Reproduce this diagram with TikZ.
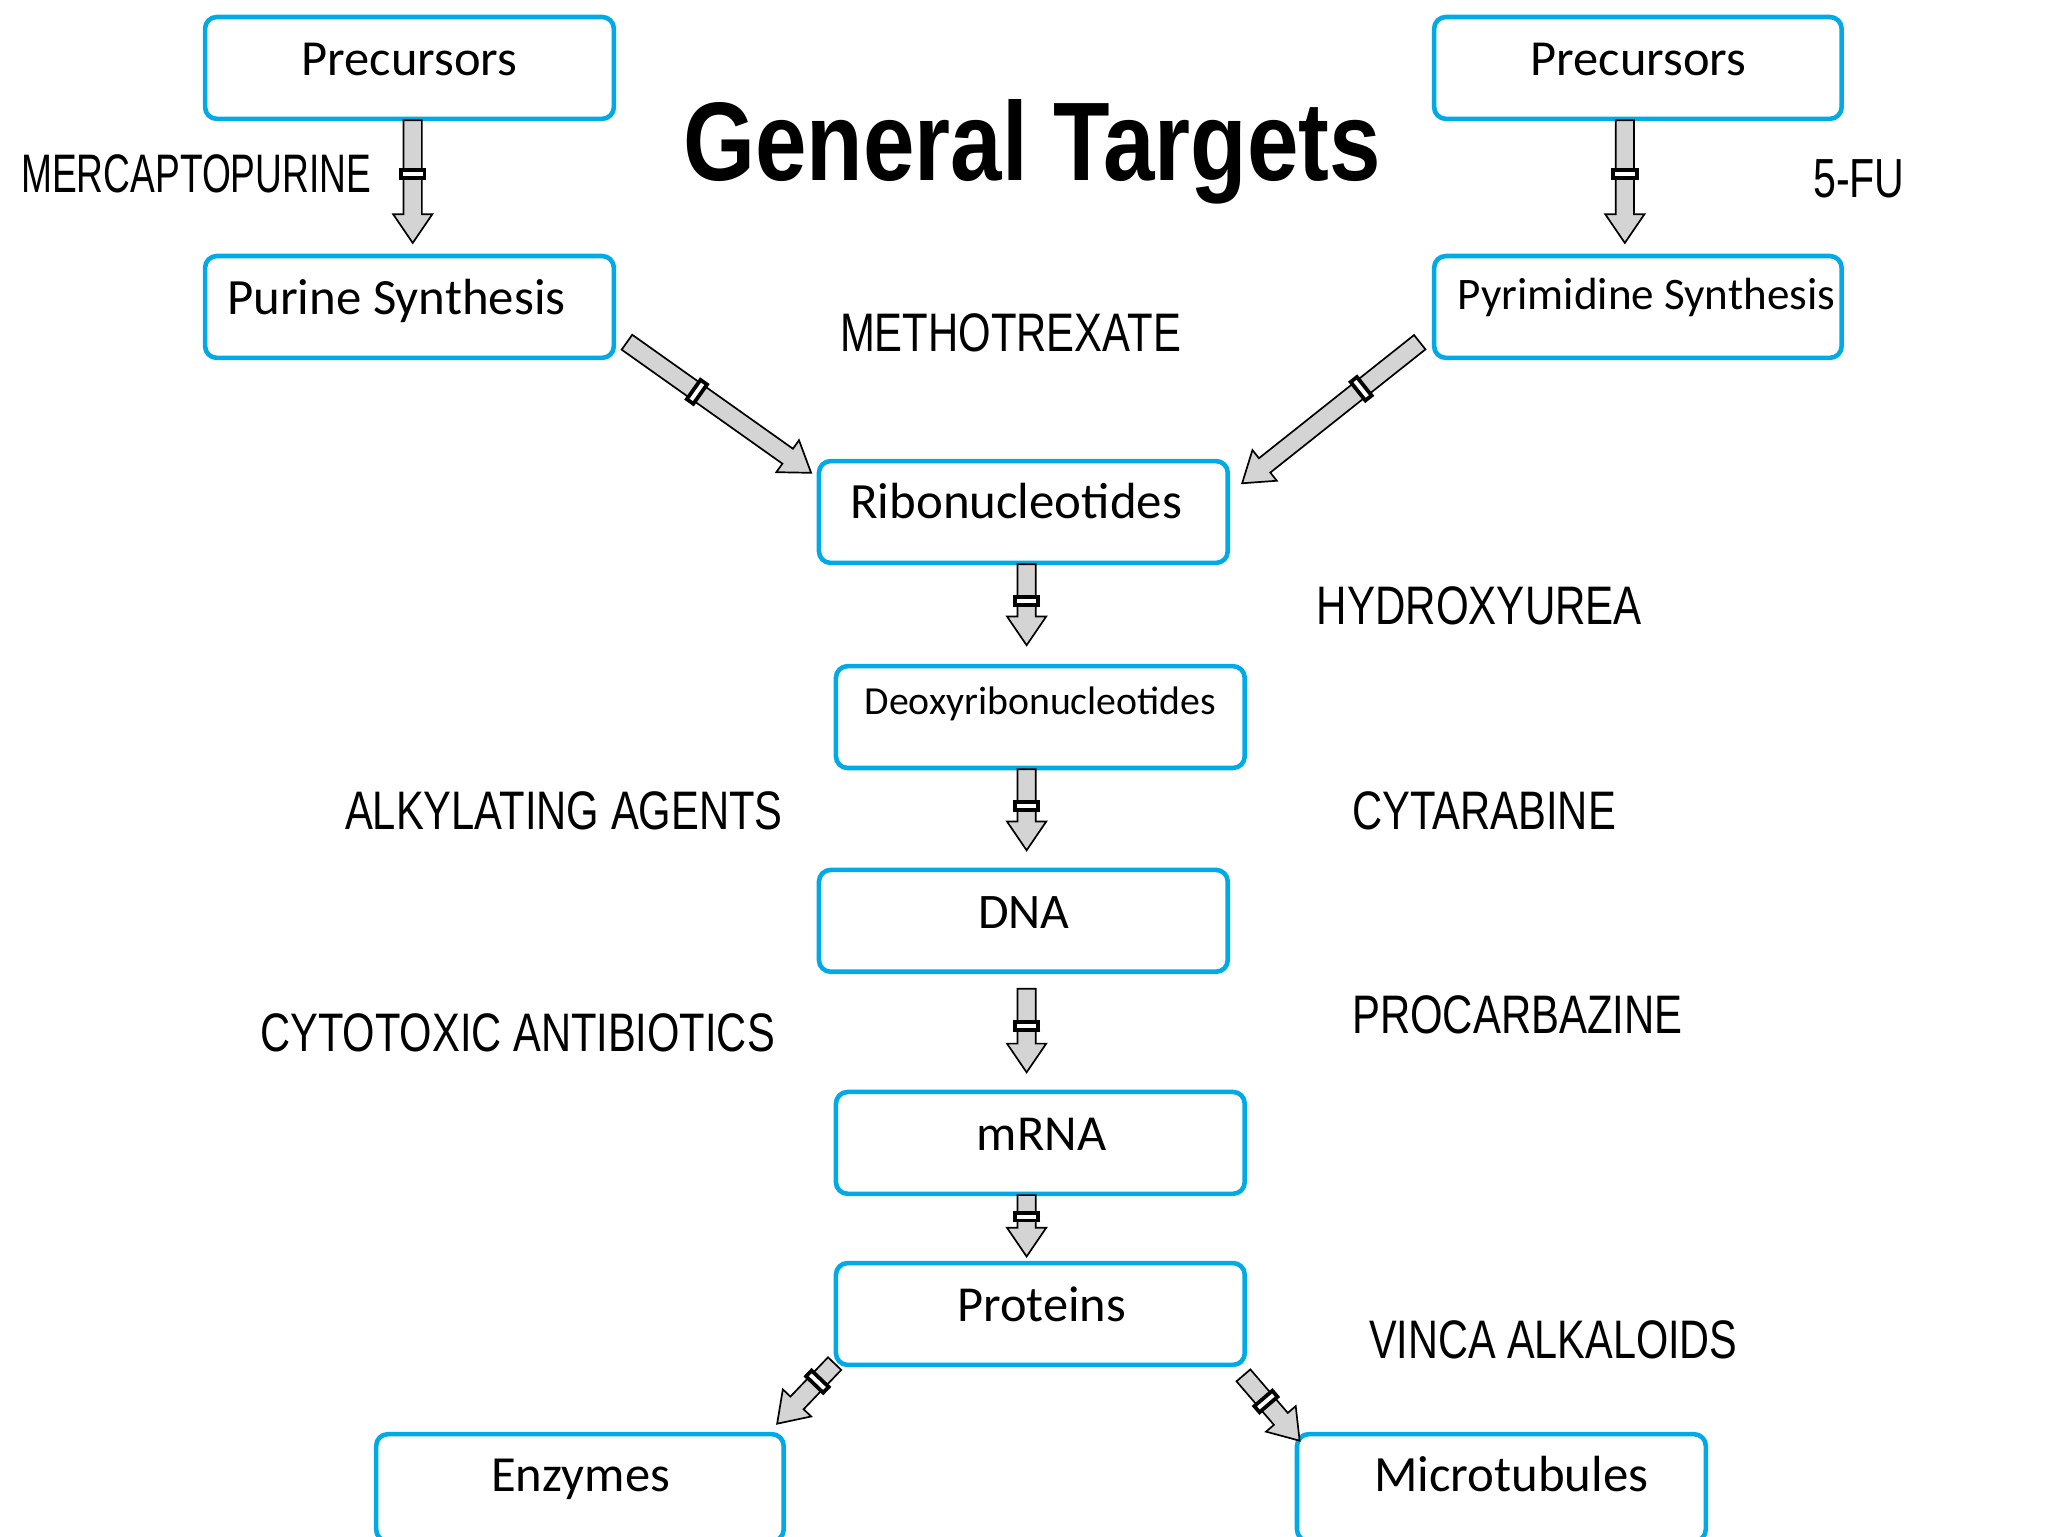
\documentclass[tikz,border=0pt]{standalone}
\usepackage{fontspec}
\setmainfont{Carlito}
\newfontfamily\arial{Liberation Sans}
\usetikzlibrary{calc}
\definecolor{boxblue}{RGB}{0,170,230}
\definecolor{arrfill}{RGB}{212,212,212}
\tikzset{
  box/.style={draw=boxblue,line width=3.5pt,rounded corners=9pt,fill=white},
  btxt/.style={anchor=base,inner sep=0pt},
  lbl/.style={anchor=base west,inner sep=0pt},
}
\newcommand{\blockarrow}[3]{%
  \filldraw[fill=arrfill,draw=black,line width=1.3pt,line join=miter]
   ($(#1)!7pt!90:(#2)$) -- ($($(#2)!22pt!(#1)$)!7pt!-90:(#1)$)
   -- ($($(#2)!22pt!(#1)$)!15pt!-90:(#1)$) -- (#2)
   -- ($($(#2)!22pt!(#1)$)!15pt!90:(#1)$) -- ($($(#2)!22pt!(#1)$)!7pt!90:(#1)$)
   -- ($(#1)!7pt!-90:(#2)$) -- cycle;
  \draw[line width=9pt,black] ($($(#1)!#3!(#2)$)!10.5pt!90:(#2)$) -- ($($(#1)!#3!(#2)$)!10.5pt!-90:(#2)$);
  \draw[line width=3pt,white] ($($(#1)!#3!(#2)$)!7.5pt!90:(#2)$) -- ($($(#1)!#3!(#2)$)!7.5pt!-90:(#2)$);
}
\newcommand{\lab}[3]{\resizebox{#1pt}{#2pt}{\arial #3}}
\begin{document}
\begin{tikzpicture}[x=1pt,y=-1pt]
\useasboundingbox[fill=white] (0,0) rectangle (1568,1176);
% boxes
\draw[box] (157,13) rectangle (470,91) coordinate (pl);
\draw[box] (1098,13) rectangle (1410,91);
\draw[box] (157,196) rectangle (470,274);
\draw[box] (1098,196) rectangle (1410,274);
\draw[box] (627,353) rectangle (940,431);
\draw[box] (640,510) rectangle (953,588);
\draw[box] (627,666) rectangle (940,744);
\draw[box] (640,836) rectangle (953,914);
\draw[box] (640,967) rectangle (953,1045);
\draw[box] (288,1098) rectangle (600,1180);
\draw[box] (993,1098) rectangle (1306,1180);
% box texts
\node[btxt] (t1) at (313.5,58) {\resizebox{165pt}{!}{Precursors}};
\node[btxt] (t2) at (1254.5,58) {\resizebox{165pt}{!}{Precursors}};
\node[btxt] (t3) at (303.5,241) {\resizebox{259pt}{!}{Purine Synthesis}};
\node[btxt] (t4) at (1260.5,237) {\resizebox{289pt}{!}{Pyrimidine Synthesis}};
\node[btxt] (t5) at (778,397) {\resizebox{254pt}{!}{Ribonucleotides}};
\node[btxt] (t6) at (796.5,547) {\resizebox{269pt}{!}{Deoxyribonucleotides}};
\node[btxt] (t7) at (784,711) {\resizebox{70pt}{!}{DNA}};
\node[btxt] (t8) at (797.5,881) {\resizebox{99pt}{!}{mRNA}};
\node[btxt] (t9) at (797.5,1012) {\resizebox{129pt}{!}{Proteins}};
\node[btxt] (t10) at (444.5,1142) {\resizebox{137pt}{!}{Enzymes}};
\node[btxt] (t11) at (1157,1142) {\resizebox{210pt}{!}{Microtubules}};
% labels
\node[lbl] (title) at (523,138) {\resizebox{534pt}{62pt}{\arial\bfseries General Targets}};
\node[lbl] (l1) at (16,147) {\lab{268}{29}{MERCAPTOPURINE}};
\node[lbl] (l2) at (1388,151) {\lab{70}{29}{5-FU}};
\node[lbl] (l3) at (643,269) {\lab{261}{29}{METHOTREXATE}};
\node[lbl] (l4) at (1008,478) {\lab{249}{29}{HYDROXYUREA}};
\node[lbl] (l5) at (264,635) {\lab{335}{29}{ALKYLATING AGENTS}};
\node[lbl] (l6) at (1035,635) {\lab{202}{29}{CYTARABINE}};
\node[lbl] (l7) at (199,805) {\lab{394}{29}{CYTOTOXIC ANTIBIOTICS}};
\node[lbl] (l8) at (1035,791) {\lab{253}{29}{PROCARBAZINE}};
\node[lbl] (l9) at (1048,1040) {\lab{282}{29}{VINCA ALKALOIDS}};
% arrows
\coordinate (a1s) at (316,92); \coordinate (a1e) at (316,186);
\coordinate (a2s) at (1244,92); \coordinate (a2e) at (1244,186);
\coordinate (a3s) at (480,262); \coordinate (a3e) at (621,362);
\coordinate (a4s) at (1087,262); \coordinate (a4e) at (951,370);
\coordinate (a5s) at (786,432); \coordinate (a5e) at (786,494);
\coordinate (a6s) at (786,589); \coordinate (a6e) at (786,651);
\coordinate (a7s) at (786,757); \coordinate (a7e) at (786,821);
\coordinate (a8s) at (786,915); \coordinate (a8e) at (786,962);
\coordinate (a9s) at (639,1044); \coordinate (a9e) at (595,1090);
\coordinate (a10s) at (952,1053); \coordinate (a10e) at (995,1103);
\blockarrow{a1s}{a1e}{0.44}
\blockarrow{a2s}{a2e}{0.44}
\blockarrow{a3s}{a3e}{0.38}
\blockarrow{a4s}{a4e}{0.33}
\blockarrow{a5s}{a5e}{0.45}
\blockarrow{a6s}{a6e}{0.45}
\blockarrow{a7s}{a7e}{0.45}
\blockarrow{a8s}{a8e}{0.35}
\blockarrow{a9s}{a9e}{0.3}
\blockarrow{a10s}{a10e}{0.4}
\end{tikzpicture}
\end{document}
